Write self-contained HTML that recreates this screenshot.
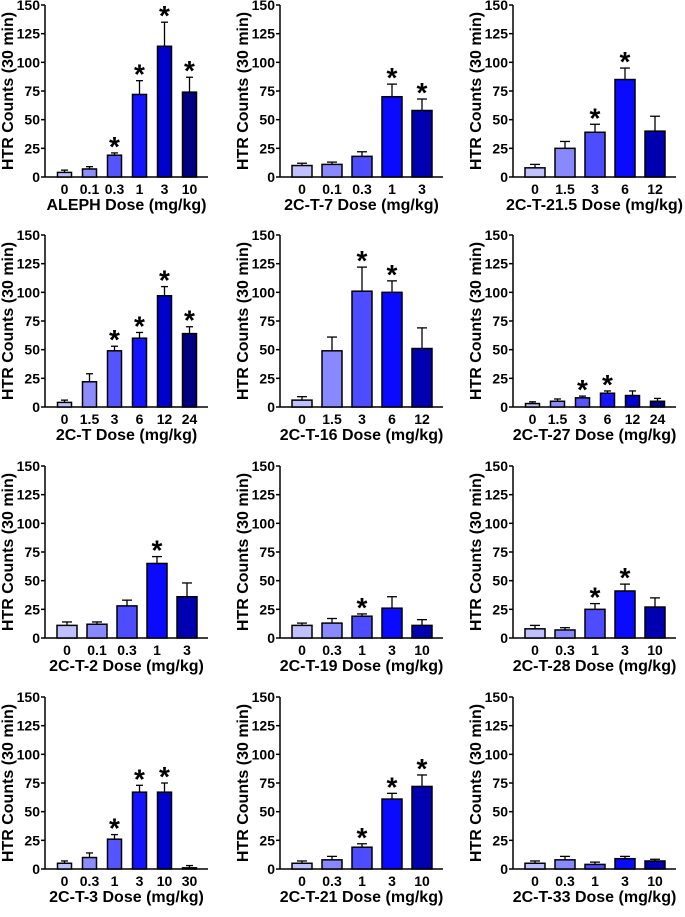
<!DOCTYPE html>
<html><head><meta charset="utf-8"><style>
body{margin:0;background:#fff;}
svg text{font-family:"Liberation Sans",Arial,sans-serif;font-weight:bold;fill:#000;}
</style></head><body>
<svg id="fig" width="685" height="912" viewBox="0 0 685 912" xmlns="http://www.w3.org/2000/svg"></svg>
<script>
const panelTitles=["ALEPH","2C-T-7","2C-T-21.5","2C-T","2C-T-16","2C-T-27","2C-T-2","2C-T-19","2C-T-28","2C-T-3","2C-T-21","2C-T-33"];
const panelDoses=[["0","0.1","0.3","1","3","10"],["0","0.1","0.3","1","3"],["0","1.5","3","6","12"],["0","1.5","3","6","12","24"],["0","1.5","3","6","12"],["0","1.5","3","6","12","24"],["0","0.1","0.3","1","3"],["0","0.3","1","3","10"],["0","0.3","1","3","10"],["0","0.3","1","3","10","30"],["0","0.3","1","3","10"],["0","0.3","1","3","10"]];
const panelMeans=[[4,7,19,72,114,74],[10,11,18,70,58],[8,25,39,85,40],[4,22,49,60,97,64],[6,49,101,100,51],[3,5,8,12,10,5],[11,12,28,65,36],[11,13,19,26,11],[8,7,25,41,27],[5,10,26,67,67,1],[5,8,19,61,72],[5,8,4,9,7]];
const panelSems=[[2,2,2,12,21,13],[2,2,4,11,10],[3,6,7,10,13],[2,7,4,5,8,6],[3,12,21,10,18],[1.5,2,1.5,2,4,2.5],[3,2,5,6,12],[2,4,2,10,5],[3,2,5,6,8],[2,4,4,6,8,2],[2,3,3,5,10],[2,3,2,2,1.5]];
const panelStars=[[0,0,1,1,1,1],[0,0,0,1,1],[0,0,1,1,0],[0,0,1,1,1,1],[0,0,1,1,0],[0,0,1,1,0,0],[0,0,0,1,0],[0,0,1,0,0],[0,0,1,1,0],[0,0,1,1,1,0],[0,0,1,1,1],[0,0,0,0,0]];
const yTicks=[0,25,50,75,100,125,150];
const colors6=["#c0c0ff","#8c8cff","#5555ff","#1414ff","#0000cc","#000080"];
const colors5=["#c0c0ff","#8888ff","#4d4dff","#0a0aff","#0000b0"];
const svg=document.getElementById('fig');
const NS="http://www.w3.org/2000/svg";
function mk(tag,attrs,parent){const e=document.createElementNS(NS,tag);for(const k in attrs)e.setAttribute(k,attrs[k]);(parent||svg).appendChild(e);return e;}
const colX=[45,280,513], rowY=[5,235,466,697], H=172, L=163;
panelTitles.forEach((title,p)=>{
  const ax=colX[p%3], top=rowY[Math.floor(p/3)], y0=top+H;
  const yS=v=>y0-v/150*H;
  const g=mk('g',{});
  
  
  const n=panelDoses[p].length;
  const s=n===6?25:30, pad=n===6?19.5:22, bw=n===6?14:20;
  const cols=n===6?colors6:colors5;
  const ya=mk('line',{x1:ax,y1:top,x2:ax,y2:y0,stroke:'#000','stroke-width':1.5},g);
  
  
  yTicks.forEach(t=>{
    const y=yS(t);
    mk('line',{x1:ax-4,y1:y,x2:ax,y2:y,stroke:'#000','stroke-width':1.5},g);
    const tl=mk('text',{x:ax-5,y:y+5,'text-anchor':'end','font-size':14},g);
    tl.textContent=t;
    
    
  });
  const yt=mk('text',{x:0,y:0,'text-anchor':'middle','font-size':16,transform:`translate(${ax-32},${top+H/2}) rotate(-90)`},g);
  yt.textContent='HTR Counts (30 min)';
  
  
  const xa=mk('line',{x1:ax,y1:y0,x2:ax+L,y2:y0,stroke:'#000','stroke-width':1.5},g);
  
  
  panelDoses[p].forEach((d,i)=>{
    const cx=ax+pad+i*s, m=panelMeans[p][i], e=panelSems[p][i];
    const yt2=yS(m+e);
    const el=mk('line',{x1:cx,y1:yS(m),x2:cx,y2:yt2,stroke:'#000','stroke-width':1.3},g);
    
    
    mk('line',{x1:cx-bw/4,y1:yt2,x2:cx+bw/4,y2:yt2,stroke:'#000','stroke-width':1.3},g);
    const r=mk('rect',{x:cx-bw/2,y:yS(m),width:bw,height:Math.max(0,y0-yS(m)),fill:cols[i],stroke:'#000','stroke-width':1.5},g);
    
    
    const tl=mk('text',{x:cx,y:y0+17,'text-anchor':'middle','font-size':14},g);
    tl.textContent=d;
    
    
    if(panelStars[p][i]){
      const st=mk('text',{x:cx,y:yt2+3,'text-anchor':'middle','font-size':28},g);
      st.textContent='*';
      
      
    }
  });
  const xt=mk('text',{x:Math.min(ax+L/2,684-0),y:y0+33,'text-anchor':'middle','font-size':16},g);
  xt.textContent=title+' Dose (mg/kg)';
  
  
});
</script>
</body></html>
